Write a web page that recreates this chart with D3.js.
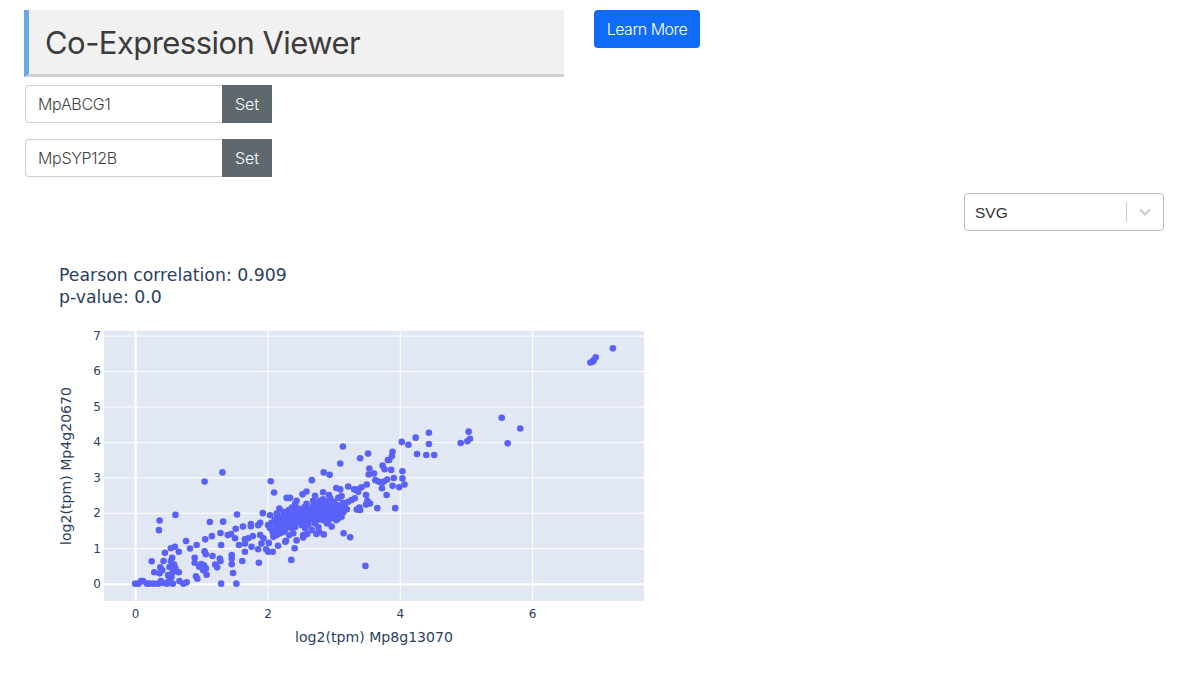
<!DOCTYPE html>
<html>
<head>
<meta charset="utf-8">
<script src="https://cdn.jsdelivr.net/npm/d3@7"></script>
<style>
  html, body { margin: 0; padding: 0; background: #fff; width: 1178px; height: 674px; overflow: hidden; }
  body { font-family: Inter, Roboto, sans-serif; position: relative; }
  .box { position: absolute; box-sizing: border-box; }
  #header { left: 24px; top: 10px; width: 540px; height: 67px; background: #f1f1f1;
    border-left: 5px solid #6ba8e5; border-bottom: 3px solid #d0d0d0;
    font-size: 31px; line-height: 66px; padding-left: 16px; color: #3c3c3c; letter-spacing: -0.55px; }
  #learn { left: 594px; top: 10px; width: 106px; height: 38px; background: #0f6cf9; color: #fff;
    border-radius: 4px; font-size: 16px; line-height: 38px; text-align: center; font-weight: 300; letter-spacing: -0.5px; }
  .gene { left: 25px; width: 197px; height: 38px; border: 1px solid #ced1d8; border-right: 0;
    border-radius: 4px 0 0 4px; font-size: 16px; line-height: 36px; padding-left: 12px; color: #3f4348; font-weight: 300; letter-spacing: -0.3px; }
  .set { left: 222px; width: 50px; height: 38px; background: #60686f; color: #fff;
    font-size: 16px; line-height: 38px; text-align: center; font-weight: 300; }
  #format { left: 964px; top: 193px; width: 200px; height: 38px; border: 1px solid #bdbdbd; border-radius: 4px;
    font-size: 15.5px; line-height: 37px; padding-left: 10px; color: #333; font-family: "Liberation Sans", sans-serif; }
  #chart { position: absolute; left: 0; top: 0; }
</style>
</head>
<body>
<div id="header" class="box">Co-Expression Viewer</div>
<div id="learn" class="box">Learn More</div>
<div class="box gene" style="top:85px">MpABCG1</div>
<div class="box set" style="top:85px">Set</div>
<div class="box gene" style="top:139px">MpSYP12B</div>
<div class="box set" style="top:139px">Set</div>
<div id="format" class="box">SVG</div>
<svg id="chart" width="1178" height="674"></svg>
<script>
const xLabel = "log2(tpm) Mp8g13070";
const yLabel = "log2(tpm) Mp4g20670";
const titleLines = ["Pearson correlation: 0.909", "p-value: 0.0"];
const xTicks = [0, 2, 4, 6];
const yTicks = [0, 1, 2, 3, 4, 5, 6, 7];

// x[i] goes with y[i]
const xValues = [
  0,.05,.09,.12,.18,.22,.28,.35,.39,.43,.48,.51,.57,.67,.73,.78,1.30,1.53,
  .25,.29,.37,.38,.41,.43,.45,.54,.60,.66,.54,.56,.52,.59,.61,.57,.66,.50,.55,.52,
  .37,.36,.61,.77,.83,.93,.90,.90,.97,1.0,1.04,1.07,1.03,1.08,.92,.94,1.05,1.07,1.06,1.16,
  1.17,1.28,1.29,1.21,1.24,1.30,1.29,1.13,1.33,1.05,1.32,1.40,
  3.14,4.03,4.13,4.24,4.26,3.89,3.88,3.52,3.40,3.82,3.84,3.10,3.74,3.77,3.87,3.54,3.53,3.61,4.04,
  2.85,2.94,4.04,3.91,3.81,2.67,2.05,3.63,3.68,3.73,3.76,3.50,3.42,3.35,3.22,3.04,3.10,3.31,
  4.07,3.99,3.89,3.73,2.84,2.10,2.59,2.53,2.72,2.93,3.37,3.49,3.80,2.29,2.34,2.44,2.84,2.95,
  3.12,3.07,3.32,3.27,3.51,3.55,3.49,3.66,3.93,3.35,3.40,3.39,
  2.18,2.42,2.59,2.69,2.79,2.90,3.0,3.17,3.22,
  2.14,2.24,2.32,2.37,2.47,2.52,2.62,2.69,2.77,2.84,2.95,3.05,3.12,3.20,
  2.04,2.11,2.19,2.27,2.34,2.42,2.49,2.57,2.64,2.72,2.79,2.87,2.95,3.02,3.10,
  2.19,2.27,2.34,2.42,2.49,2.57,2.64,2.72,2.79,2.87,2.95,3.05,3.12,
  2.01,2.06,2.14,2.24,2.32,2.39,2.52,2.59,2.69,2.77,2.84,2.92,3.04,
  2.04,2.11,2.19,2.27,2.37,2.52,2.57,2.67,2.77,2.90,2.97,
  2.08,2.14,2.19,2.33,2.39,2.54,2.60,2.74,2.78,2.85,2.09,2.54,
  1.54,1.93,1.89,1.86,1.75,1.75,1.63,1.52,1.45,1.51,1.66,1.71,1.78,1.89,1.94,1.91,2.02,
  1.57,1.66,1.76,1.86,1.98,2.01,2.08,2.16,2.27,2.28,2.44,2.41,1.66,1.46,1.46,1.46,1.62,1.87,
  2.36,1.48,3.15,3.25,3.48,
  4.40,4.52,4.44,4.44,4.92,5.02,5.06,5.04,5.63,5.54,5.82,6.88,6.92,6.93,6.96,7.22,
  2.15,2.22,2.30,2.38,2.46,2.54,2.60,2.68,2.76,2.83,2.91,2.99,3.07,3.15,
  2.12,2.20,2.28,2.36,2.45,2.55,2.64,2.74,2.82,2.90,2.99,3.08,
  2.15,2.24,2.30,2.42,2.62,2.72,2.86,2.92,2.72,2.56,2.44,2.28,2.36,2.50,
  3.02,3.08,3.0,3.14,2.82,2.74
];
const yValues = [
  0,0,.07,.07,0,0,0,0,.07,.02,0,.07,0,.07,0,.04,0,0,
  .63,.32,.29,.46,.38,.64,.87,1.0,1.04,.90,.64,.73,.47,.54,.43,.33,.32,.24,.19,.10,
  1.78,1.51,1.94,1.20,.99,1.09,.73,.59,.48,.55,.52,.43,.38,.25,.21,.14,.91,.83,1.25,1.34,
  .78,.71,.64,.54,.46,1.09,1.43,1.74,1.75,2.88,3.14,1.37,
  3.87,4.0,3.92,4.12,3.66,3.72,3.60,3.67,3.54,3.49,3.49,3.39,3.33,3.23,3.21,3.25,3.08,3.11,3.17,
  3.14,3.07,2.97,2.98,2.94,2.92,2.89,2.92,2.88,2.85,2.88,2.80,2.72,2.66,2.74,2.70,2.66,2.66,
  2.80,2.72,2.76,2.69,2.58,2.57,2.60,2.52,2.48,2.50,2.59,2.50,2.50,2.42,2.42,2.34,2.38,2.41,
  2.47,2.42,2.41,2.36,2.34,2.26,2.23,2.13,2.13,2.09,2.08,2.15,
  2.12,2.25,2.25,2.34,2.34,2.31,2.31,2.22,2.31,
  1.98,2.03,2.08,2.15,2.12,2.08,2.12,2.19,2.17,2.22,2.19,2.22,2.12,2.10,
  1.93,1.81,1.87,1.91,1.93,1.98,1.96,2.0,2.03,2.05,2.06,2.03,2.08,2.06,2.03,
  1.75,1.77,1.81,1.84,1.87,1.87,1.91,1.93,1.93,1.91,1.93,1.91,1.89,
  1.65,1.72,1.65,1.65,1.68,1.68,1.77,1.77,1.81,1.81,1.79,1.77,1.79,
  1.56,1.53,1.59,1.53,1.56,1.65,1.56,1.51,1.59,1.70,1.61,
  1.44,1.37,1.42,1.37,1.42,1.37,1.40,1.40,1.46,1.39,1.32,1.30,
  1.95,1.99,1.72,1.65,1.68,1.62,1.61,1.55,1.40,1.28,1.25,1.28,1.34,1.37,1.28,1.13,1.15,
  1.09,1.13,1.04,.97,.97,.90,.90,1.07,1.18,1.21,1.22,1.0,.90,.81,.71,.55,.64,.59,
  .67,.30,1.42,1.31,.50,
  3.63,3.63,4.26,3.94,3.97,4.02,4.09,4.29,3.96,4.68,4.38,6.24,6.27,6.31,6.39,6.64,
  1.90,1.82,1.86,1.88,1.92,1.94,1.98,1.98,2.0,1.98,1.98,2.0,1.97,2.02,
  1.72,1.66,1.72,1.76,1.75,1.72,1.82,1.86,1.86,1.85,1.85,1.85,
  1.48,1.46,1.60,1.60,1.66,1.70,2.12,2.14,2.14,2.16,2.12,2.0,2.02,2.02,
  2.14,2.16,2.26,2.28,2.28,2.26
];

function drawChart() {
  const svg = d3.select("#chart");
  const plot = { left: 104, right: 644, top: 331, bottom: 601 };

  const x = d3.scaleLinear().domain([-0.47, 7.69]).range([plot.left, plot.right]);
  const y = d3.scaleLinear().domain([-0.49, 7.13]).range([plot.bottom, plot.top]);
  const textColor = "#2a3f5f";
  const fontFamily = "'DejaVu Sans', Verdana, sans-serif";

  svg.style("font-family", fontFamily);

  // select control
  svg.append("line").attr("x1", 1126.5).attr("x2", 1126.5).attr("y1", 202).attr("y2", 222)
    .attr("stroke", "#ccc");
  svg.append("path").attr("d", "M1140 209.5l5 5 5-5").attr("fill", "none")
    .attr("stroke", "#ccc").attr("stroke-width", 2.2);

  svg.append("rect")
    .attr("x", plot.left).attr("y", plot.top)
    .attr("width", plot.right - plot.left).attr("height", plot.bottom - plot.top)
    .attr("fill", "#e1e8f3");

  const xAxis = d3.axisBottom(x).tickValues(xTicks).tickFormat(d3.format("d"))
    .tickSize(-(plot.bottom - plot.top)).tickPadding(8);
  const yAxis = d3.axisLeft(y).tickValues(yTicks).tickFormat(d3.format("d"))
    .tickSize(-(plot.right - plot.left)).tickPadding(3);

  [
    svg.append("g").attr("transform", "translate(0," + plot.bottom + ")").call(xAxis),
    svg.append("g").attr("transform", "translate(" + plot.left + ",0)").call(yAxis)
  ].forEach((g) => {
    g.select(".domain").remove();
    g.selectAll("line").attr("stroke", "#fff").attr("stroke-width", (d) => d === 0 ? 2 : 1);
    g.selectAll("text").attr("fill", textColor).style("font-size", "12px").style("font-family", fontFamily);
  });

  svg.append("g")
    .selectAll("circle")
    .data(xValues.map((v, i) => [v, yValues[i]]))
    .enter()
    .append("circle")
    .attr("cx", (d) => x(d[0]))
    .attr("cy", (d) => y(d[1]))
    .attr("r", 3.3)
    .attr("fill", "#5a61f8");

  svg.append("g")
    .selectAll("text")
    .data(titleLines)
    .enter()
    .append("text")
    .attr("x", 59)
    .attr("y", (d, i) => 281 + i * 22)
    .attr("fill", textColor)
    .style("font-size", "17.3px")
    .text((d) => d);

  svg.append("text")
    .attr("x", (plot.left + plot.right) / 2)
    .attr("y", 642)
    .attr("text-anchor", "middle")
    .attr("fill", textColor)
    .style("font-size", "14.1px")
    .text(xLabel);

  svg.append("text")
    .attr("transform", "translate(71," + (plot.top + plot.bottom) / 2 + ") rotate(-90)")
    .attr("text-anchor", "middle")
    .attr("fill", textColor)
    .style("font-size", "14.1px")
    .text(yLabel);
}

drawChart();
</script>
</body>
</html>
